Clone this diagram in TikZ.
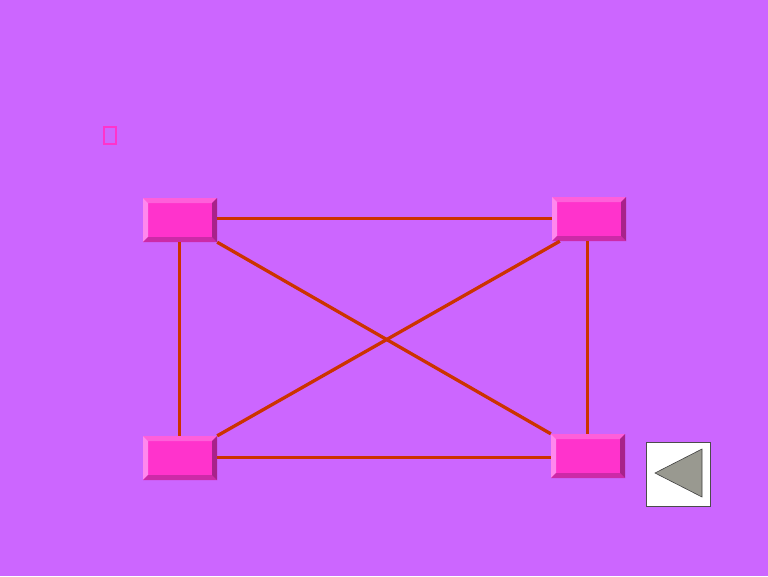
\documentclass[tikz,border=0pt]{standalone}
\usepackage{xcolor}

\definecolor{slidebg}{HTML}{CC66FF}
\definecolor{btnface}{HTML}{FF33CC}
\definecolor{btnlight}{HTML}{FF88EE}
\definecolor{btntop}{HTML}{FF5FDA}
\definecolor{btnbottom}{HTML}{CC2AA8}
\definecolor{btndark}{HTML}{A8228A}
\definecolor{edgered}{HTML}{CC3300}
\definecolor{backgray}{HTML}{999990}

\tikzset{
  btn/.style={rectangle, minimum width=74pt, minimum height=44pt, inner sep=0pt,
    fill=btnface, path picture={
      \fill[btntop] (path picture bounding box.north west) -- (path picture bounding box.north east)
        -- ++(-5pt,-5pt) -- ([shift={(5pt,-5pt)}]path picture bounding box.north west) -- cycle;
      \fill[btnlight] (path picture bounding box.north west) -- ++(5pt,-5pt)
        -- ([shift={(5pt,5pt)}]path picture bounding box.south west) -- (path picture bounding box.south west) -- cycle;
      \fill[btnbottom] (path picture bounding box.south west) -- ++(5pt,5pt)
        -- ([shift={(-5pt,5pt)}]path picture bounding box.south east) -- (path picture bounding box.south east) -- cycle;
      \fill[btndark] (path picture bounding box.north east) -- ++(-5pt,-5pt)
        -- ([shift={(-5pt,5pt)}]path picture bounding box.south east) -- (path picture bounding box.south east) -- cycle;
    }},
  link/.style={draw=edgered, line width=3.3pt},
}

\begin{document}
\begin{tikzpicture}[x=1pt,y=-1pt]
\fill[slidebg] (0,0) rectangle (768,576);
\useasboundingbox (0,0) rectangle (768,576);

% missing glyph
\draw[btnface, line width=2pt] (104,127) rectangle (116,144);

% buttons
\node[btn] (tl) at (180,220) {};
\node[btn] (tr) at (589,219) {};
\node[btn] (bl) at (180,458) {};
\node[btn] (br) at (588,456) {};

% links
\draw[link] ([yshift=1.5pt]tl.east) -- ([yshift=1.5pt]tl.east -| tr.west);
\draw[link] ([yshift=0.5pt]bl.east) -- ([yshift=0.5pt]bl.east -| br.west);
\draw[link] ([xshift=-0.5pt]tl.south) -- ([xshift=-0.5pt]tl.south |- bl.north);
\draw[link] ([xshift=-1.5pt]tr.south) -- ([xshift=-1.5pt]tr.south |- br.north);
\draw[link] (tl.south east) -- (br.north west);
\draw[link] ([xshift=8pt]tr.south west) -- (bl.north east);

% back button
\node[rectangle, draw=black!70, fill=white, line width=0.8pt, minimum width=64pt, minimum height=64pt, inner sep=0pt] (back) at (678,474) {};
\fill[backgray, draw=black!75, line width=0.6pt] (702,449) -- (655,473) -- (702,497) -- cycle;
\end{tikzpicture}
\end{document}
